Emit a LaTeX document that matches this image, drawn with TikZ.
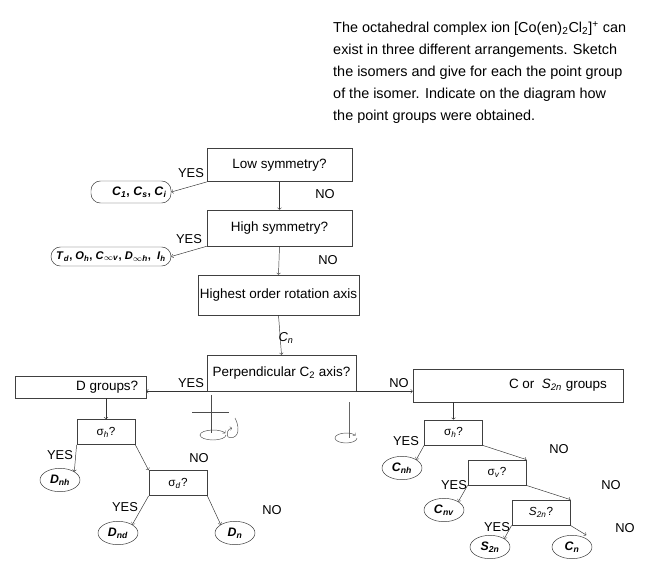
\documentclass[tikz,border=0pt]{standalone}
\usepackage{fontspec}
\setmainfont{Liberation Sans}
\usetikzlibrary{shapes.geometric}
\newcommand\pg[2]{\textit{#1}\textsubscript{\textit{#2}}}
\begin{document}
\begin{tikzpicture}[x=0.03cm,y=-0.03cm,
    box/.style={draw=black!75, rectangle, inner sep=0pt, font=\fontsize{11.5}{13}\selectfont},
    res/.style={draw=black!80, rounded corners=8pt, inner sep=0pt, font=\fontsize{10.5}{12}\selectfont\bfseries},
    leaf/.style={draw=black!80, ellipse, inner sep=0pt, minimum width=1.2cm, minimum height=0.7cm, font=\fontsize{10.5}{12}\selectfont\bfseries},
    qbox/.style={draw=black!75, rectangle, inner sep=0pt, minimum width=1.75cm, minimum height=0.76cm, font=\fontsize{10}{11}\selectfont},
    lbl/.style={font=\fontsize{11}{12}\selectfont},
    arr/.style={->, black!80}]
    \useasboundingbox (0,0) rectangle (669,576);

    % the question
    \node[anchor=north west, align=left, inner sep=0pt,
          font=\fontsize{12.3}{18.8}\selectfont] (task) at (333,21)
        {The octahedral complex ion [Co(en)\textsubscript{2}Cl\textsubscript{2}]\textsuperscript{+} can\\
         exist in three different arrangements. Sketch\\
         the isomers and give for each the point group\\
         of the isomer. Indicate on the diagram how\\
         the point groups were obtained.};

    % the main column
    \node[box, minimum width=4.35cm, minimum height=1cm] (low) at (279.5,165) {Low symmetry?};
    \node[box, minimum width=4.35cm, minimum height=1.08cm] (high) at (279.5,228) {\raisebox{-6pt}{High symmetry?}};
    \node[box, minimum width=4.83cm, minimum height=1.2cm] (axis) at (278.5,295) {\raisebox{-6pt}{Highest order rotation axis}};
    \node[box, minimum width=4.47cm, minimum height=1.08cm] (perp) at (281.5,373) {\raisebox{-6pt}{Perpendicular C\textsubscript{2} axis?}};

    % the results on top
    \node[res, minimum width=2.4cm, minimum height=0.66cm] (c1) at (131,192) {\hspace*{0.5cm}\pg{C}{1}, \pg{C}{s}, \pg{C}{i}};
    \node[res, minimum width=3.6cm, minimum height=0.57cm, font=\fontsize{9.5}{11}\selectfont\bfseries] (td) at (111,256.5)
        {\pg{T}{d}, \pg{O}{h}, \pg{C}{\scriptsize$\infty$v}, \pg{D}{\scriptsize$\infty$h}, \ \pg{I}{h}};

    % the two branches
    \node[box, minimum width=3.93cm, minimum height=0.66cm] (dgr) at (80.5,387) {\hspace*{1.6cm}D groups?};
    \node[box, minimum width=6.3cm, minimum height=0.99cm] (cgr) at (518,385.5) {\hspace*{2.4cm}C or \ \textit{S}\textsubscript{\textit{2n}} groups};

    % D side
    \node[qbox] (dsh) at (106,432) {σ\textsubscript{\textit{h}}?};
    \node[qbox] (dsd) at (178,483) {σ\textsubscript{\textit{d}}?};
    \node[leaf] (dnh) at (60,480) {\pg{D}{nh}};
    \node[leaf] (dnd) at (118,533) {\pg{D}{nd}};
    \node[leaf] (dn) at (235,533) {\pg{D}{n}};

    % C side
    \node[qbox] (csh) at (453.5,432.5) {σ\textsubscript{\textit{h}}?};
    \node[qbox] (csv) at (497,472.5) {σ\textsubscript{\textit{v}}?};
    \node[qbox] (cs2) at (541,512.5) {\textit{S}\textsubscript{\textit{2n}}?};
    \node[leaf] (cnh) at (402,468) {\pg{C}{nh}};
    \node[leaf] (cnv) at (444,510) {\pg{C}{nv}};
    \node[leaf] (s2n) at (490,547) {\pg{S}{2n}};
    \node[leaf] (cn) at (572,547) {\pg{C}{n}};

    % arrows of the main column
    \draw[arr] (low.south west) -- (c1.east);
    \draw[arr] (low.south) -- (high.north);
    \draw[arr] (high.south west) -- (td.east);
    \draw[arr] (high.south) -- (axis.north);
    \draw[arr] (axis.south) -- (perp.north);
    \draw[arr] (perp.south west) -- (perp.south west -| dgr.east);
    \draw[arr] (perp.south east) -- (perp.south east -| cgr.west);

    % arrows of the D side
    \draw[arr] (dgr.south -| dsh.north) -- (dsh.north);
    \draw[arr] (dsh.south west) -- (dnh.north east);
    \draw[arr] (dsh.south east) -- (dsd.north west);
    \draw[arr] (dsd.south west) -- (dnd.north east);
    \draw[arr] (dsd.south east) -- (dn.north west);

    % arrows of the C side
    \draw[arr] (cgr.south -| csh.north) -- (csh.north);
    \draw[arr] (csh.south west) -- (cnh.north east);
    \draw[arr] (csh.south east) -- (csv.north east);
    \draw[arr] (csv.south west) -- (cnv.north east);
    \draw[arr] (csv.south east) -- (cs2.north east);
    \draw[arr] (cs2.south west) -- (s2n.north east);
    \draw[arr] (cs2.south east) -- (cn.north east |- cn.north);

    % the labels
    \node[lbl] (l1) at (191,173) {YES};
    \node[lbl] (l2) at (325,194) {NO};
    \node[lbl] (l3) at (189,239) {YES};
    \node[lbl] (l4) at (328,260) {NO};
    \node[lbl] (l5) at (286,338) {\textit{C}\textsubscript{\textit{n}}};
    \node[lbl] (l6) at (191,383) {YES};
    \node[lbl] (l7) at (399,383) {NO};
    \node[lbl] (l8) at (60,455) {YES};
    \node[lbl] (l9) at (199,458) {NO};
    \node[lbl] (l10) at (125,507) {YES};
    \node[lbl] (l11) at (272,510) {NO};
    \node[lbl] (l12) at (406,441) {YES};
    \node[lbl] (l13) at (559,449) {NO};
    \node[lbl] (l14) at (454,485) {YES};
    \node[lbl] (l15) at (611,485) {NO};
    \node[lbl] (l16) at (497,527) {YES};
    \node[lbl] (l17) at (625,528) {NO};

    % the symmetry sketches
    \draw[black!70] (211,395) -- (211,433) (192,412) -- (229,412);
    \draw[black!70, ->] (226,435) arc (0:340:13 and 5);
    \draw[black!70, ->] (235,418) .. controls (242,432) and (236,440) .. (228,437)
        (228,437) .. controls (226,433) and (228,429) .. (232,428);
    \draw[black!60] (349,402) -- (349,438);
    \draw[black!70, ->] (357,438) arc (0:330:11 and 5);
\end{tikzpicture}
\end{document}
